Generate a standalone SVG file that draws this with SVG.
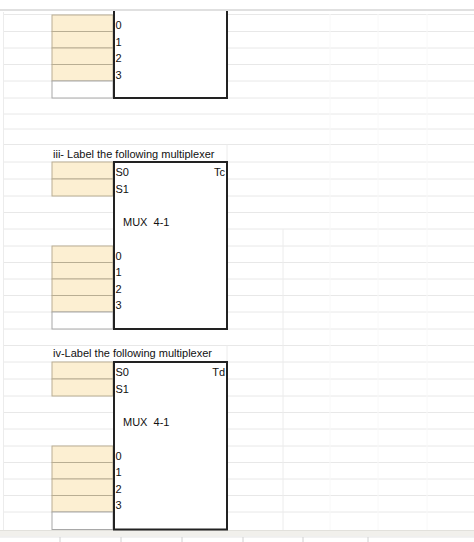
<svg xmlns="http://www.w3.org/2000/svg" width="474" height="542" viewBox="0 0 474 542">
<style>
.grid{stroke:#e8e8e8;stroke-width:1;fill:none}
.vgrid{stroke:#ececec;stroke-width:1;fill:none}
.yel{fill:#fcefd2;stroke:#b9ae93;stroke-width:1}
.wht{fill:#ffffff;stroke:#a8a8a8;stroke-width:1}
.box{fill:#ffffff;stroke:#222;stroke-width:2}
.t{font-family:"Liberation Sans",Arial,sans-serif;font-size:11px;fill:#111}
</style>
<rect x="0" y="0" width="474" height="542" fill="#ffffff"/>
<g id="grid">
<line class="grid" x1="3" y1="14.5" x2="474" y2="14.5" stroke="#e4e4e4"/>
<g class="grid">
<line x1="3" y1="31.5" x2="474" y2="31.5"/>
<line x1="3" y1="48" x2="474" y2="48"/>
<line x1="3" y1="64.5" x2="474" y2="64.5"/>
<line x1="3" y1="81" x2="474" y2="81"/>
<line x1="3" y1="98" x2="474" y2="98"/>
<line x1="3" y1="114" x2="474" y2="114"/>
<line x1="3" y1="129" x2="474" y2="129"/>
<line x1="3" y1="144.5" x2="474" y2="144.5"/>
<line x1="3" y1="162" x2="474" y2="162"/>
<line x1="3" y1="179" x2="474" y2="179"/>
<line x1="3" y1="196" x2="474" y2="196"/>
<line x1="3" y1="212.5" x2="474" y2="212.5"/>
<line x1="3" y1="229" x2="474" y2="229"/>
<line x1="3" y1="246" x2="474" y2="246"/>
<line x1="3" y1="262.5" x2="474" y2="262.5"/>
<line x1="3" y1="279" x2="474" y2="279"/>
<line x1="3" y1="295.5" x2="474" y2="295.5"/>
<line x1="3" y1="312" x2="474" y2="312"/>
<line x1="3" y1="329" x2="474" y2="329"/>
<line x1="3" y1="345.5" x2="474" y2="345.5"/>
<line x1="3" y1="362" x2="474" y2="362"/>
<line x1="3" y1="379" x2="474" y2="379"/>
<line x1="3" y1="396" x2="474" y2="396"/>
<line x1="3" y1="412.5" x2="474" y2="412.5"/>
<line x1="3" y1="429" x2="474" y2="429"/>
<line x1="3" y1="446" x2="474" y2="446"/>
<line x1="3" y1="462.5" x2="474" y2="462.5"/>
<line x1="3" y1="479" x2="474" y2="479"/>
<line x1="3" y1="495.5" x2="474" y2="495.5"/>
<line x1="3" y1="512" x2="474" y2="512"/>
</g>
<g class="vgrid">
<line x1="3.5" y1="12" x2="3.5" y2="530"/>
<line x1="283" y1="229" x2="283" y2="530"/>
<line x1="227" y1="144.5" x2="227" y2="162"/>
<line x1="227" y1="345.5" x2="227" y2="362"/>
<line x1="330" y1="14" x2="330" y2="530" stroke="#f8f8f8"/>
<line x1="378" y1="14" x2="378" y2="530" stroke="#f8f8f8"/>
<line x1="427" y1="14" x2="427" y2="530" stroke="#f8f8f8"/>
</g>
<line x1="0" y1="10" x2="474" y2="10" stroke="#d6d6d6" stroke-width="1.5"/>
<rect x="0" y="530.5" width="474" height="6" fill="#f1f0ec"/>
<line x1="0" y1="530.5" x2="474" y2="530.5" stroke="#e2e1dc"/>
<line x1="0" y1="537" x2="474" y2="537" stroke="#e6e6e6"/>
<g stroke="#d0d0d0" stroke-width="1">
<line x1="60" y1="537" x2="60" y2="542"/>
<line x1="121" y1="537" x2="121" y2="542"/>
<line x1="182" y1="537" x2="182" y2="542"/>
<line x1="243" y1="537" x2="243" y2="542"/>
<line x1="303" y1="537" x2="303" y2="542"/>
<line x1="368" y1="537" x2="368" y2="542"/>
</g>
</g>
<g id="mux-top">
<rect class="yel" x="52" y="15" width="61" height="16.5"/>
<rect class="yel" x="52" y="31.5" width="61" height="16.5"/>
<rect class="yel" x="52" y="48" width="61" height="16.5"/>
<rect class="yel" x="52" y="64.5" width="61" height="16.5"/>
<rect class="wht" x="52" y="81" width="61" height="17"/>
<rect x="114" y="11" width="113" height="87" fill="#fff"/>
<path d="M114 11 V98 H227 V11" fill="none" stroke="#222" stroke-width="2"/>
<text class="t" x="115.5" y="29">0</text>
<text class="t" x="115.5" y="45.5">1</text>
<text class="t" x="115.5" y="62">2</text>
<text class="t" x="115.5" y="78.5">3</text>
</g>
<g id="mux-iii">
<text class="t" x="53" y="158">iii- Label the following multiplexer</text>
<rect class="yel" x="52" y="162" width="61" height="17"/>
<rect class="yel" x="52" y="179" width="61" height="17"/>
<rect class="yel" x="52" y="246" width="61" height="16.5"/>
<rect class="yel" x="52" y="262.5" width="61" height="16.5"/>
<rect class="yel" x="52" y="279" width="61" height="16.5"/>
<rect class="yel" x="52" y="295.5" width="61" height="16.5"/>
<rect class="wht" x="52" y="312" width="61" height="17"/>
<rect class="box" x="114" y="162" width="113" height="167"/>
<text class="t" x="115.5" y="176">S0</text>
<text class="t" x="115.5" y="193">S1</text>
<text class="t" x="225" y="176" text-anchor="end">Tc</text>
<text class="t" x="123" y="226" xml:space="preserve">MUX  4-1</text>
<text class="t" x="115.5" y="259.5">0</text>
<text class="t" x="115.5" y="276">1</text>
<text class="t" x="115.5" y="292.5">2</text>
<text class="t" x="115.5" y="309">3</text>
</g>
<g id="mux-iv">
<text class="t" x="53" y="357">iv-Label the following multiplexer</text>
<rect class="yel" x="52" y="362" width="61" height="17"/>
<rect class="yel" x="52" y="379" width="61" height="17"/>
<rect class="yel" x="52" y="446" width="61" height="16.5"/>
<rect class="yel" x="52" y="462.5" width="61" height="16.5"/>
<rect class="yel" x="52" y="479" width="61" height="16.5"/>
<rect class="yel" x="52" y="495.5" width="61" height="16.5"/>
<rect class="wht" x="52" y="512" width="61" height="17.5"/>
<rect class="box" x="114" y="362" width="113" height="167.5"/>
<text class="t" x="115.5" y="376">S0</text>
<text class="t" x="115.5" y="393">S1</text>
<text class="t" x="225" y="376" text-anchor="end">Td</text>
<text class="t" x="123" y="426" xml:space="preserve">MUX  4-1</text>
<text class="t" x="115.5" y="459.5">0</text>
<text class="t" x="115.5" y="476">1</text>
<text class="t" x="115.5" y="492.5">2</text>
<text class="t" x="115.5" y="509">3</text>
</g>
</svg>
